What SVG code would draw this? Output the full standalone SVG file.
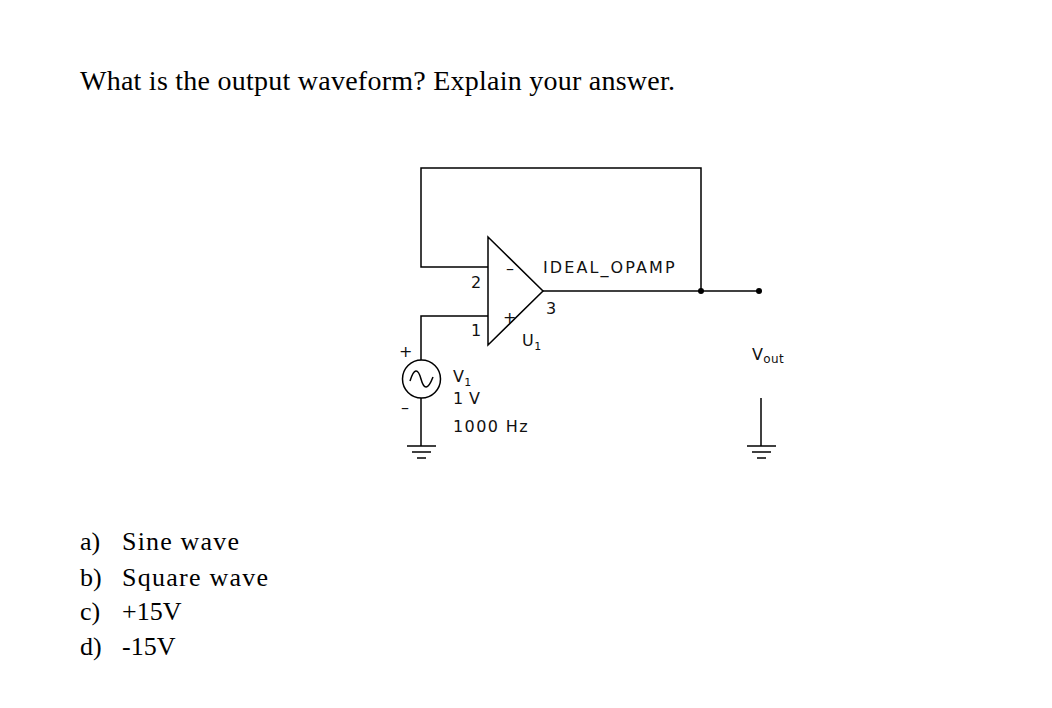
<svg xmlns="http://www.w3.org/2000/svg" width="1052" height="708" viewBox="0 0 1052 708">
<style>
.w{stroke:#000;stroke-width:1.5;fill:none}
.t{font-family:"DejaVu Sans",sans-serif;font-size:16px;fill:#111;letter-spacing:0.4px}
.q{font-family:"Liberation Serif",serif;fill:#000}
</style>
<rect width="1052" height="708" fill="#fff"/>
<text class="q" x="80" y="90" font-size="28" textLength="595">What is the output waveform? Explain your answer.</text>
<g class="q" font-size="26">
<text x="80" y="550">a)</text><text x="122" y="550" textLength="117">Sine wave</text>
<text x="80" y="586">b)</text><text x="122" y="586" textLength="146">Square wave</text>
<text x="80" y="620">c)</text><text x="122" y="620">+15V</text>
<text x="80" y="655">d)</text><text x="122" y="655">-15V</text>
</g>
<g id="connectors" class="w">
<polyline points="488,267 421,267 421,168 701,168 701,291"/>
<line x1="543" y1="291" x2="758" y2="291"/>
<polyline points="488,316 421,316 421,360"/>
<line x1="421" y1="398" x2="421" y2="446"/>
<line x1="761" y1="398" x2="761" y2="446"/>
</g>
<g id="opamp">
<polygon class="w" points="488,237 488,345 543,291"/>
<text class="t" x="506" y="274">–</text>
<text class="t" x="503" y="323">+</text>
<text class="t" x="471" y="288">2</text>
<text class="t" x="471" y="336">1</text>
<text class="t" x="546" y="314">3</text>
<text class="t" x="543" y="273" textLength="132">IDEAL_OPAMP</text>
<text class="t" x="522" y="346">U<tspan font-size="11" dy="4">1</tspan></text>
</g>
<g id="junction"><circle cx="701" cy="291" r="3"/></g>
<g id="vout"><circle cx="759" cy="291" r="3"/><text class="t" x="752" y="360">V<tspan font-size="12" dy="3">out</tspan></text></g>
<g id="source">
<circle class="w" cx="421.5" cy="379" r="19"/>
<path class="w" d="M410,381 C414,368 418,368 421,379 C424,390 428,390 433,377"/>
<text class="t" x="399" y="357">+</text>
<text class="t" x="401" y="413">–</text>
<text class="t" x="453" y="382">V<tspan font-size="11" dy="4">1</tspan></text>
<text class="t" x="453" y="404">1 V</text>
<text class="t" x="453" y="432" textLength="75">1000 Hz</text>
</g>
<g id="gnd1" class="w"><line x1="407" y1="446" x2="436" y2="446"/><line x1="412" y1="452" x2="431" y2="452"/><line x1="417" y1="458" x2="426" y2="458"/></g>
<g id="gnd2" class="w"><line x1="747" y1="446" x2="776" y2="446"/><line x1="752" y1="452" x2="771" y2="452"/><line x1="757" y1="458" x2="766" y2="458"/></g>
</svg>
